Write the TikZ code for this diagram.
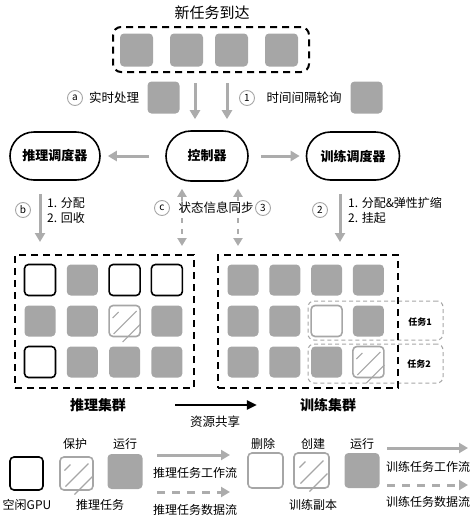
\documentclass[tikz,border=0pt]{standalone}
\usepackage{fontspec}
\setmainfont{Noto Sans CJK SC}
\usepackage{tikz}
\usetikzlibrary{positioning,arrows.meta}

\definecolor{tilegray}{RGB}{166,166,166}
\definecolor{flowgray}{RGB}{172,172,172}

\begin{document}
\begin{tikzpicture}[x=1pt, y=-1pt,
    lbl/.style={inner sep=0pt, font=\fontsize{12.5}{15}\selectfont},
    ttl/.style={inner sep=0pt, font=\fontsize{14}{16}\selectfont\bfseries},
    numtag/.style={circle, draw=tilegray, line width=0.9pt, inner sep=0pt, minimum size=15pt, font=\fontsize{10}{10}\selectfont},
    sched/.style={draw, line width=1.6pt, rounded corners=24pt, minimum height=48pt, font=\fontsize{13}{15}\selectfont\bfseries},
    tile/.style={rounded corners=4pt, minimum size=31pt, inner sep=0pt},
    run/.style={tile, fill=tilegray},
    idle/.style={tile, draw=black, line width=1.6pt},
    freed/.style={tile, draw=tilegray, line width=1.6pt, fill=white},
    hatch/.style={tile, draw=tilegray, line width=1.6pt, fill=white},
    hatchline/.style={draw=tilegray, line width=1.1pt},
    clu/.style={draw, line width=2pt, dash pattern=on 7pt off 5pt, inner sep=0pt},
    task/.style={draw=tilegray, line width=1pt, dash pattern=on 4pt off 3pt, rounded corners=6pt, inner sep=0pt},
    flow/.style={draw=flowgray, line width=3pt, -{Triangle[width=10pt,length=9pt]}},
    dflow/.style={draw=flowgray, line width=2.5pt, dash pattern=on 5pt off 6pt, {Triangle[width=9pt,length=8pt]}-{Triangle[width=9pt,length=8pt]}},
    dflowone/.style={draw=flowgray, line width=3pt, dash pattern=on 8pt off 7pt, -{Triangle[width=10pt,length=9pt]}},
    share/.style={draw=black, line width=2.5pt, -{Triangle[width=9pt,length=10pt]}}]
  \useasboundingbox (0,0) rectangle (474,520);

  % new tasks
  \node[lbl, font=\fontsize{15}{17}\selectfont] (arrive) at (212,13) {新任务到达};
  \node[draw, line width=2pt, dash pattern=on 7pt off 5pt, rounded corners=8pt, minimum width=196pt, minimum height=45pt] (newbox) at (211,49.5) {};
  \node[run, minimum size=33pt] (n1) at (136.5,50) {};
  \node[run, minimum size=33pt] (n2) at (186.5,50) {};
  \node[run, minimum size=33pt] (n3) at (231.5,50) {};
  \node[run, minimum size=33pt] (n4) at (281.5,50) {};

  \node[numtag] (ta) at (75,98) {a};
  \node[lbl] (rt) at (114,98) {实时处理};
  \node[run, minimum size=32pt] (rtsq) at (163.5,97.5) {};
  \node[numtag] (t1) at (247,98) {1};
  \node[lbl] (poll) at (304,98) {时间间隔轮询};
  \node[run, minimum size=32pt] (pollsq) at (366.5,97.5) {};

  % schedulers
  \node[sched, minimum width=90pt] (inf) at (55,156) {推理调度器};
  \node[sched, minimum width=82pt, minimum height=50pt, rounded corners=25pt] (ctrl) at (207,156) {控制器};
  \node[sched, minimum width=93pt] (tr) at (353,156) {训练调度器};

  \draw[flow, shorten <=10pt, shorten >=11pt] ([xshift=-16pt]newbox.south) -- ([xshift=-16pt]newbox.south |- ctrl.north);
  \draw[flow, shorten <=10pt, shorten >=11pt] ([xshift=16pt]newbox.south) -- ([xshift=16pt]newbox.south |- ctrl.north);
  \draw[flow, shorten <=16pt, shorten >=7pt] (ctrl.west) -- (inf.east);
  \draw[flow, shorten <=12pt, shorten >=6pt] (ctrl.east) -- (tr.west);

  % clusters
  \node[clu, minimum width=179pt, minimum height=133pt] (lclu) at (104.5,321.5) {};
  \node[task, minimum width=135pt, minimum height=39pt] (job1) at (375.5,320.5) {};
  \node[task, minimum width=135pt, minimum height=39pt] (job2) at (375.5,363.5) {};
  \node[clu, minimum width=180pt, minimum height=133pt] (rclu) at (308,321.5) {};

  \draw[flow, shorten <=13pt, shorten >=12pt] (inf.south -| 40,0) -- (lclu.north -| 40,0);
  \draw[flow, shorten <=13pt, shorten >=12pt] (tr.south -| 340,0) -- (rclu.north -| 340,0);
  \draw[dflow, shorten <=7pt, shorten >=8pt] (ctrl.south -| 182,0) -- (lclu.north -| 182,0);
  \draw[dflow, shorten <=7pt, shorten >=8pt] (ctrl.south -| 238,0) -- (rclu.north -| 238,0);

  \node[numtag] (tb) at (23,210) {b};
  \node[lbl, anchor=west, align=left, font=\fontsize{12}{15}\selectfont] (infops) at (47,210.5) {1. 分配\\2. 回收};
  \node[numtag] (tc) at (162,208) {c};
  \node[lbl] (sync) at (216,208) {状态信息同步};
  \node[numtag] (t3) at (263,208) {3};
  \node[numtag] (t2) at (320,210) {2};
  \node[lbl, anchor=west, align=left, font=\fontsize{12}{15}\selectfont] (trops) at (348,210.5) {1. 分配\&弹性扩缩\\2. 挂起};

  \foreach \st [count=\i from 0] in {idle,run,idle,idle,run,run,hatch,run,idle,run,run,run}{
    \pgfmathtruncatemacro\rr{\i/4}
    \pgfmathtruncatemacro\cc{\i-4*\rr}
    \node[\st] (L\i) at (40+42.3*\cc, 280+41*\rr) {};
  }
  \foreach \st [count=\i from 0] in {run,run,run,run,run,run,freed,run,run,run,run,hatch}{
    \pgfmathtruncatemacro\rr{\i/4}
    \pgfmathtruncatemacro\cc{\i-4*\rr}
    \node[\st] (R\i) at (243+41.8*\cc, 280+41*\rr) {};
  }

  \node[inner sep=0pt, font=\fontsize{9}{10}\selectfont\bfseries] (j1) at (420,322) {任务1};
  \node[inner sep=0pt, font=\fontsize{9}{10}\selectfont\bfseries] (j2) at (419,364) {任务2};

  \node[ttl] (infname) at (98,405) {推理集群};
  \node[ttl] (trname) at (328,405) {训练集群};
  \draw[share, shorten <=49pt, shorten >=43pt] (infname.east) -- (trname.west);
  \node[lbl] (sharelbl) at (215,422) {资源共享};

  % legend
  \node[idle, minimum size=33pt] (gidle) at (26.5,473.5) {};
  \node[lbl, font=\fontsize{12}{14}\selectfont] (gidlelbl) at (27,505) {空闲GPU};
  \node[hatch, minimum size=33pt] (gprot) at (76.5,473.5) {};
  \node[lbl, font=\fontsize{12}{14}\selectfont] (gprotlbl) at (75,444) {保护};
  \node[run, minimum size=35pt] (grun) at (125,471.5) {};
  \node[lbl, font=\fontsize{12}{14}\selectfont] (grunlbl) at (125,444) {运行};
  \node[lbl, font=\fontsize{12}{14}\selectfont] (inftask) at (100,505) {推理任务};

  \coordinate (iw1) at (157,455);
  \coordinate (iw2) at (230,455);
  \coordinate (id1) at (157,492);
  \coordinate (id2) at (230,492);
  \draw[flow] (iw1) -- (iw2);
  \draw[dflowone] (id1) -- (id2);
  \node[lbl, font=\fontsize{12}{14}\selectfont] (iwlbl) at (195,473) {推理任务工作流};
  \node[lbl, font=\fontsize{12}{14}\selectfont] (idlbl) at (195,510) {推理任务数据流};

  \node[freed, minimum size=35pt] (gdel) at (265.5,470.5) {};
  \node[lbl, font=\fontsize{12}{14}\selectfont] (gdellbl) at (263,444) {删除};
  \node[hatch, minimum size=35pt] (gnew) at (311.5,470.5) {};
  \node[lbl, font=\fontsize{12}{14}\selectfont] (gnewlbl) at (313,444) {创建};
  \node[run, minimum size=35pt] (grun2) at (362,470.5) {};
  \node[lbl, font=\fontsize{12}{14}\selectfont] (grun2lbl) at (362,444) {运行};
  \node[lbl, font=\fontsize{12}{14}\selectfont] (replica) at (313,505) {训练副本};

  \coordinate (tw1) at (387,448);
  \coordinate (tw2) at (468,448);
  \coordinate (td1) at (387,485);
  \coordinate (td2) at (468,485);
  \draw[flow] (tw1) -- (tw2);
  \draw[dflowone] (td1) -- (td2);
  \node[lbl, font=\fontsize{12}{14}\selectfont] (twlbl) at (428,467) {训练任务工作流};
  \node[lbl, font=\fontsize{12}{14}\selectfont] (tdlbl) at (428,502) {训练任务数据流};

  % hatching
  \foreach \h in {L6,R11,gprot,gnew}
    \draw[hatchline, shift={(\h.center)}] (-12,-3) -- (-6,-9) (-11,13) -- (12,-10) (-2,21) -- (16,3);
\end{tikzpicture}
\end{document}
